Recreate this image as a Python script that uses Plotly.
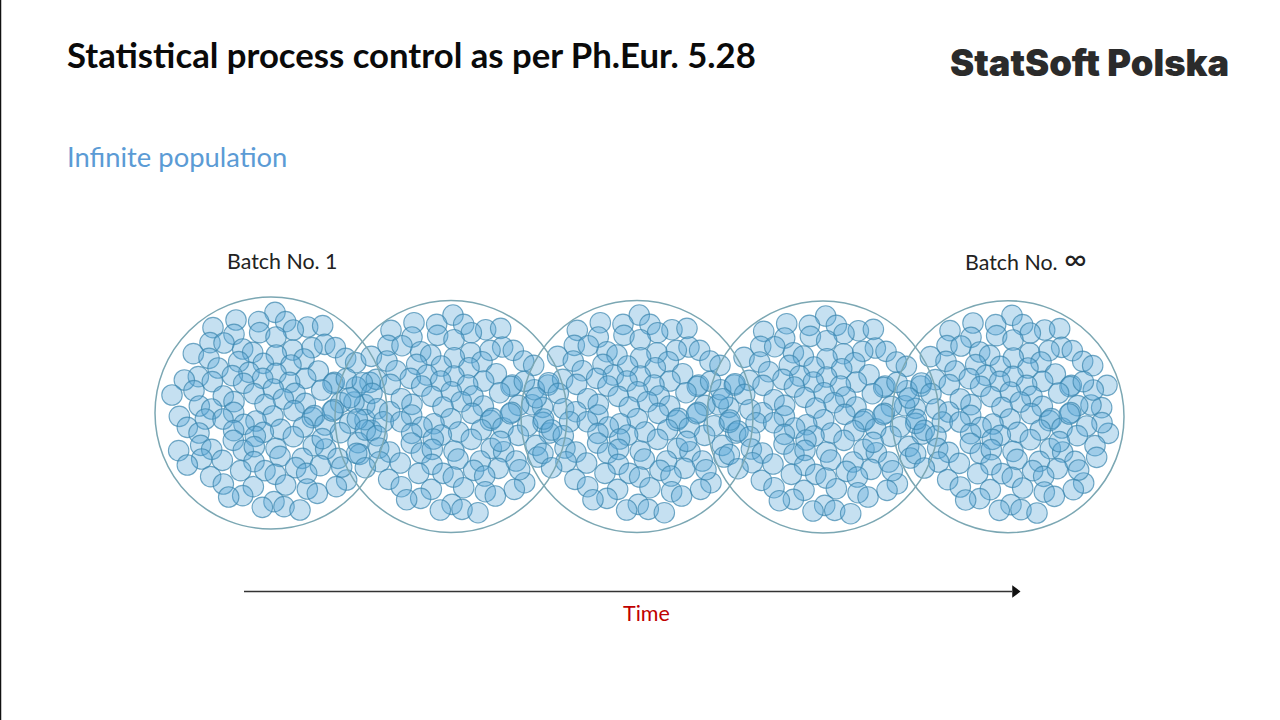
import numpy as np
import plotly.graph_objects as go

# one batch (3x zoom units, crop origin 150,295)
dots_x = [375, 258, 326, 407, 189, 473, 518, 430, 329, 252, 378, 180, 222, 130, 524, 556, 428, 486, 278, 308,
          379, 462, 177, 587, 617, 266, 340, 204, 423, 505, 297, 145, 247, 103, 378, 338, 467, 187, 419, 281,
          132, 66, 553, 549, 515, 370, 312, 220, 435, 400, 252, 148, 345, 466, 185, 432, 251, 88, 369, 487,
          493, 166, 219, 112, 318, 147, 282, 392, 251, 460, 525, 340, 430, 316, 152, 250, 185, 86, 280, 490,
          378, 313, 527, 155, 217, 390, 112, 312, 457, 564, 511, 437, 272, 345, 376, 470, 182, 407, 220, 590,
          559, 310, 472, 502, 278, 236, 372, 337, 402, 450, 660, 644, 664, 645, 624, 629, 599, 571, 612, 619,
          589, 572, 551, 547, 517, 575]
dots_y = [52, 75, 80, 80, 98, 96, 92, 105, 113, 118, 126, 143, 144, 176, 148, 158, 165, 158, 162, 172,
          180, 192, 190, 190, 203, 200, 205, 219, 210, 228, 232, 245, 242, 255, 235, 250, 250, 260, 262, 265,
          287, 300, 262, 266, 285, 282, 296, 303, 295, 312, 320, 333, 328, 325, 342, 347, 352, 364, 363, 368,
          362, 372, 372, 397, 378, 414, 388, 403, 407, 396, 390, 412, 425, 424, 451, 436, 463, 467, 466, 452,
          460, 455, 462, 492, 496, 484, 510, 500, 490, 490, 512, 518, 527, 527, 538, 535, 545, 570, 567, 555,
          575, 575, 582, 595, 602, 606, 620, 637, 635, 645, 262, 329, 406, 374, 443, 478, 384, 413, 321, 276,
          251, 323, 344, 348, 431, 516]

# where each batch sits relative to the first one
batch_dx = [0, 178, 364.3, 550.7, 737]
batch_dy = [0, 2.7, 2.7, 3.7, 3]

# outer circles
batch_cx = [271, 451, 637, 823, 1008]
batch_cy = [413, 416.5, 416.5, 417, 416.7]

dot_px_x = np.array(dots_x) / 3 + 150
dot_px_y = np.array(dots_y) / 3 + 295

fig = go.Figure()

for dx, dy in zip(batch_dx, batch_dy):
    fig.add_scatter(x=dot_px_x + dx, y=dot_px_y + dy, mode="markers", showlegend=False, hoverinfo="skip",
                    marker=dict(size=20.5, color="rgba(90,165,216,0.35)",
                                line=dict(color="rgba(60,135,175,0.72)", width=1.1)))

fig.add_scatter(x=batch_cx, y=batch_cy, mode="markers", showlegend=False, hoverinfo="skip",
                marker=dict(size=232, color="rgba(0,0,0,0)", line=dict(color="#7ba7b3", width=1.5)))

# time arrow
fig.add_scatter(x=[244, 1012], y=[591.5, 591.5], mode="lines", showlegend=False, hoverinfo="skip",
                line=dict(color="#333333", width=1.3))
fig.add_scatter(x=[1015], y=[591.5], mode="markers", showlegend=False, hoverinfo="skip",
                marker=dict(symbol="triangle-right", size=11, color="#111111"))

# slide edge on the left
fig.add_shape(type="line", x0=0.5, x1=0.5, y0=0, y1=720, line=dict(color="#111111", width=1.5))


def label(x, y, text, size, color, family="Lato", weight=None):
    fig.add_annotation(x=x, y=y, text=text, showarrow=False, xanchor="left", yanchor="middle",
                       font=dict(family=family, size=size, color=color, weight=weight))


label(65, 54, "Statistical process control as per Ph.Eur. 5.28", 34.7, "#0a0a0a", weight="bold")
label(948, 63, "StatSoft Polska", 36.3, "#2b2b2b", family="Inter", weight=900)
label(65, 156, "Infinite population", 27.4, "#5b9bd5")
label(225, 261, "Batch No. 1", 21.4, "#222222")
label(963, 262, "Batch No.", 21.4, "#222222")
label(1062, 258, "∞", 31, "#222222")
label(621, 613, "Time", 21.5, "#c00000")

fig.update_xaxes(range=[0, 1280], visible=False, fixedrange=True)
fig.update_yaxes(range=[720, 0], visible=False, fixedrange=True)
fig.update_layout(width=1280, height=720, margin=dict(l=0, r=0, t=0, b=0),
                  paper_bgcolor="white", plot_bgcolor="white", showlegend=False)

fig.write_html("out.html", config={"displayModeBar": False},
               post_script="document.body.style.margin='0';")
